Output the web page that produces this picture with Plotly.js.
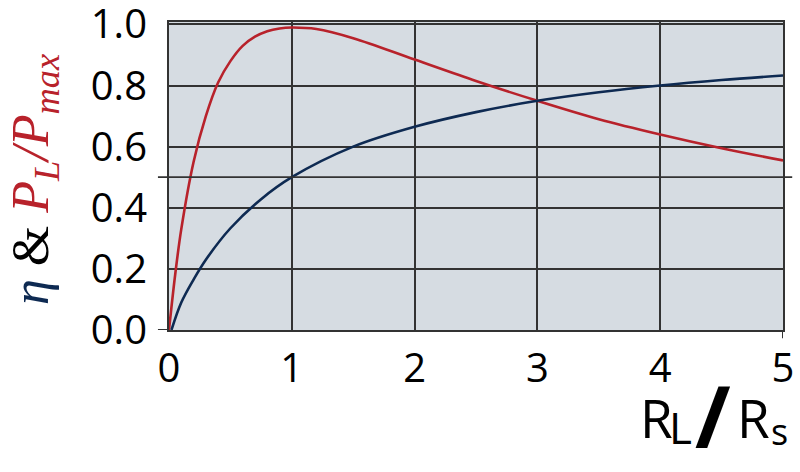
<!DOCTYPE html>
<html>
<head>
<meta charset="utf-8">
<script src="https://cdn.plot.ly/plotly-3.0.1.min.js"></script>
<style>
  html, body { margin: 0; padding: 0; background: #fff; }
  #chart { width: 800px; height: 472px; }
</style>
</head>
<body>
<div id="chart"></div>
<script>
"use strict";

// values (R_L / R_s on x)
const powerX = [0, 0.05, 0.1, 0.2, 0.3, 0.4, 0.5, 0.6, 0.7, 0.8, 0.9, 1.0, 1.2, 1.5, 2.0, 2.5, 3.0, 3.5, 4.0, 4.5, 5.0];
const powerY = [0, 0.18, 0.33, 0.55, 0.70, 0.81, 0.88, 0.93, 0.96, 0.978, 0.987, 0.99, 0.985, 0.955, 0.885, 0.815, 0.75, 0.69, 0.64, 0.595, 0.555];

const effX = [0.02, 0.1, 0.2, 0.3, 0.5, 0.75, 1.0, 1.5, 2.0, 2.5, 3.0, 3.5, 4.0, 4.5, 5.0];
const effY = [0, 0.09, 0.165, 0.23, 0.333, 0.428, 0.5, 0.6, 0.665, 0.713, 0.75, 0.778, 0.8, 0.818, 0.833];

const RED = "#b8222b";
const NAVY = "#0e2a52";
const GRID = "#333333";

// plot box in page pixels, used to place the hand-set title pieces
const L = 169, R = 783, T = 22, B = 330;
const px = (x) => (x - L) / (R - L);
const py = (y) => (B - y) / (B - T);

const data = [
  { x: powerX, y: powerY, mode: "lines", line: { color: RED, width: 2.6, shape: "spline" }, hoverinfo: "skip" },
  { x: effX, y: effY, mode: "lines", line: { color: NAVY, width: 2.6, shape: "spline" }, hoverinfo: "skip" },
];

const tickFont = { family: "Open Sans, sans-serif", size: 40, color: "#000" };

// x title "R_L / R_s" built from separate pieces
const xTitleParts = [
  { t: "R", cx: 656, cy: 418, size: 53, bold: false },
  { t: "L", cx: 680, cy: 427, size: 44, bold: false },
  { t: "/", cx: 713, cy: 414, size: 86, bold: true },
  { t: "R", cx: 753, cy: 418, size: 53, bold: false },
  { t: "s", cx: 779, cy: 431, size: 36, bold: false },
];

const xTitleAnn = xTitleParts.map((p) => ({
  xref: "paper", yref: "paper", x: px(p.cx), y: py(p.cy),
  xanchor: "center", yanchor: "middle", showarrow: false,
  font: { family: "Open Sans, sans-serif", size: p.size, color: "#000", weight: p.bold ? 700 : 400 },
  text: p.t,
}));

const layout = {
  width: 800,
  height: 472,
  margin: { l: L, r: 800 - R, t: T, b: 472 - B },
  paper_bgcolor: "#fff",
  plot_bgcolor: "#d6dce2",
  showlegend: false,
  xaxis: {
    range: [0, 5],
    tickmode: "linear", tick0: 0, dtick: 1,
    tickfont: tickFont,
    ticks: "outside", ticklen: 2, tickcolor: "rgba(0,0,0,0)",
    showgrid: true, gridcolor: GRID, gridwidth: 2,
    showline: true, linecolor: GRID, linewidth: 2, mirror: true,
    zeroline: false,
  },
  yaxis: {
    range: [0, 1.008],
    tickmode: "linear", tick0: 0, dtick: 0.2, tickformat: ".1f",
    tickfont: tickFont,
    ticks: "outside", ticklen: 12, tickcolor: "rgba(0,0,0,0)",
    ticklabeloverflow: "allow",
    showgrid: true, gridcolor: GRID, gridwidth: 2,
    showline: true, linecolor: GRID, linewidth: 2, mirror: true,
    zeroline: false,
  },
  shapes: [
    { type: "line", xref: "paper", yref: "y", x0: -0.018, x1: 1.015, y0: 0.5, y1: 0.5, line: { color: GRID, width: 1.8 } },
    { type: "line", xref: "paper", yref: "y", x0: -0.018, x1: 0, y0: 0, y1: 0, line: { color: GRID, width: 2 } },
    { type: "line", xref: "x", yref: "paper", x0: 5, x1: 5, y0: 0, y1: -0.027, line: { color: GRID, width: 2 } },
  ],
  annotations: [
    {
      xref: "paper", yref: "paper", x: px(34), y: py(180),
      xanchor: "center", yanchor: "middle", textangle: -90, showarrow: false,
      font: { family: "Liberation Serif, serif", size: 52, color: "#000" },
      text: `<i><span style="color:${NAVY}">η</span></i> & <i><span style="color:${RED}">P<sub>L</sub>/P<sub>max</sub></span></i>`,
    },
    ...xTitleAnn,
  ],
};

Plotly.newPlot("chart", data, layout, { staticPlot: true, displayModeBar: false });
</script>
</body>
</html>
